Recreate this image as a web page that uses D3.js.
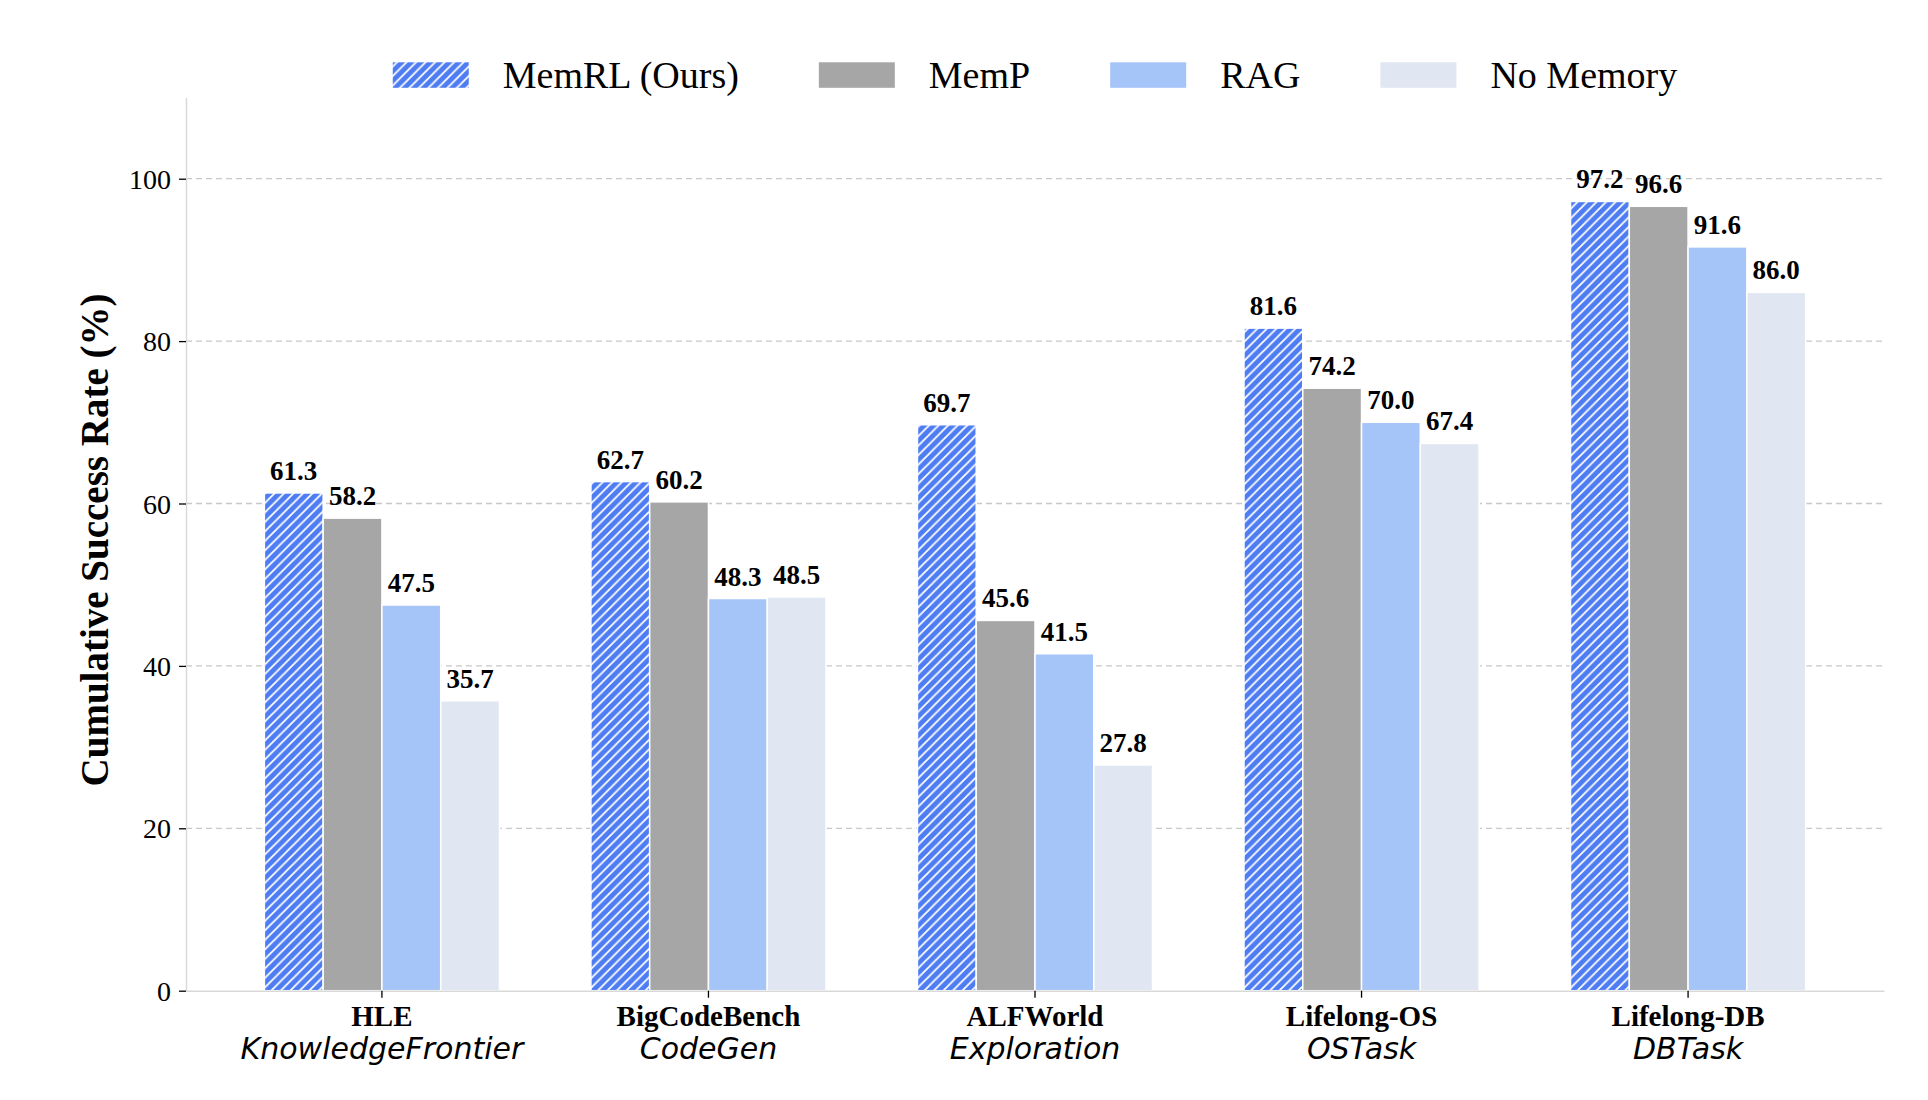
<!DOCTYPE html>
<html>
<head>
<meta charset="utf-8">
<script src="https://cdn.jsdelivr.net/npm/d3@7"></script>
<style>
  body { margin: 0; background: #fff; }
  text { fill: #000; }
</style>
</head>
<body>
<svg id="chart"></svg>
<script>
// data
const benchmarks = ["HLE", "BigCodeBench", "ALFWorld", "Lifelong-OS", "Lifelong-DB"]
const domains = ["KnowledgeFrontier", "CodeGen", "Exploration", "OSTask", "DBTask"]
const methods = ["MemRL (Ours)", "MemP", "RAG", "No Memory"]
const memrl = [61.3, 62.7, 69.7, 81.6, 97.2]
const memp = [58.2, 60.2, 45.6, 74.2, 96.6]
const rag = [47.5, 48.3, 41.5, 70.0, 91.6]
const noMemory = [35.7, 48.5, 27.8, 67.4, 86.0]
const yTicks = [0, 20, 40, 60, 80, 100]

const colors = ["#4e7cf3", "#a6a6a6", "#a5c4f7", "#e0e6f2"]
const serif = "'Liberation Serif', 'Times New Roman', Times, serif"
const sans = "'DejaVu Sans', sans-serif"

const width = 1928, height = 1100
const plotLeft = 186, plotRight = 1884, plotTop = 97.5, plotBottom = 990.7

const series = [memrl, memp, rag, noMemory]
const rows = benchmarks.map((b, i) => ({
  name: b,
  values: methods.map((m, j) => ({method: m, j: j, value: series[j][i]}))
}))

const svg = d3.select("#chart")
  .attr("width", width)
  .attr("height", height)

// hatch for MemRL
const defs = svg.append("defs")
const hatch = defs.append("pattern")
  .attr("id", "hatch")
  .attr("patternUnits", "userSpaceOnUse")
  .attr("width", 9.5)
  .attr("height", 9.5)
hatch.append("rect").attr("width", 9.5).attr("height", 9.5).attr("fill", colors[0])
hatch.append("path")
  .attr("d", "M-2,2 L2,-2 M0,9.5 L9.5,0 M7.5,11.5 L11.5,7.5")
  .attr("stroke", "#fff")
  .attr("stroke-width", 1.8)

const fillFor = j => j === 0 ? "url(#hatch)" : colors[j]

const x0 = d3.scaleBand()
  .domain(benchmarks)
  .range([plotLeft, plotRight])
  .paddingInner(0.28)
  .paddingOuter(0.24)

const x1 = d3.scaleBand()
  .domain(methods)
  .range([0, x0.bandwidth()])

const y = d3.scaleLinear()
  .domain([0, 110])
  .range([plotBottom, plotTop])

// grid
svg.append("g")
  .selectAll("line")
  .data(yTicks.slice(1))
  .enter().append("line")
  .attr("x1", plotLeft).attr("x2", plotRight)
  .attr("y1", d => y(d)).attr("y2", d => y(d))
  .attr("stroke", "#c8c8c8")
  .attr("stroke-width", 1.3)
  .attr("stroke-dasharray", "6,4")

// bars
let groups = svg.append("g")
  .selectAll("g")
  .data(rows).enter()
  .append("g")
  .attr("transform", d => `translate(${x0(d.name)},0)`)

groups.selectAll("rect")
  .data(d => d.values).enter()
  .append("rect")
  .attr("x", d => x1(d.method))
  .attr("width", x1.bandwidth())
  .attr("y", d => y(d.value))
  .attr("height", d => y(0) - y(d.value))
  .attr("fill", d => fillFor(d.j))
  .attr("stroke", "#fff")
  .attr("stroke-width", 1.5)

groups.selectAll(".val")
  .data(d => d.values).enter()
  .append("text")
  .attr("class", "val")
  .attr("x", d => x1(d.method) + x1.bandwidth() / 2)
  .attr("y", d => y(d.value) - 13)
  .attr("text-anchor", "middle")
  .style("font-family", serif)
  .style("font-weight", "bold")
  .style("font-size", "27px")
  .text(d => d.value.toFixed(1))

// axes
let yAxis = svg.append("g")
  .attr("transform", `translate(${plotLeft},0)`)
  .call(d3.axisLeft(y).tickValues(yTicks).tickSize(7).tickSizeOuter(0).tickPadding(8))
yAxis.select(".domain").attr("stroke", "#d9d9d9").attr("stroke-width", 1.5)
yAxis.selectAll(".tick line").attr("stroke", "#000").attr("stroke-width", 1.3)
yAxis.selectAll(".tick text")
  .attr("dy", null)
  .attr("y", 9.5)
  .style("font-family", serif)
  .style("font-size", "28px")

let xAxis = svg.append("g")
  .attr("transform", `translate(0,${plotBottom})`)
  .call(d3.axisBottom(x0).tickSize(7).tickSizeOuter(0).tickFormat(""))
xAxis.select(".domain").attr("stroke", "#d9d9d9").attr("stroke-width", 1.5)
xAxis.selectAll(".tick line").attr("stroke", "#000").attr("stroke-width", 1.3)
xAxis.selectAll(".tick text").remove()

let xLabels = svg.append("g")
  .selectAll("g")
  .data(benchmarks).enter()
  .append("g")
  .attr("transform", d => `translate(${x0(d) + x0.bandwidth() / 2},0)`)
xLabels.append("text")
  .attr("y", 1026)
  .attr("text-anchor", "middle")
  .style("font-family", serif)
  .style("font-weight", "bold")
  .style("font-size", "29px")
  .text(d => d)
xLabels.append("text")
  .attr("y", 1059)
  .attr("text-anchor", "middle")
  .style("font-family", sans)
  .style("font-style", "italic")
  .style("font-size", "30px")
  .text((d, i) => domains[i])

svg.append("text")
  .attr("transform", "translate(108,540) rotate(-90)")
  .attr("text-anchor", "middle")
  .style("font-family", serif)
  .style("font-weight", "bold")
  .style("font-size", "39px")
  .text("Cumulative Success Rate (%)")

// legend, laid out like matplotlib and centred over the axes
const patchW = 76, patchH = 25.5, textGap = 34, colGap = 80
let legend = svg.append("g")
let items = legend.selectAll("g")
  .data(methods).enter()
  .append("g")
items.append("rect")
  .attr("y", 62.3)
  .attr("width", patchW)
  .attr("height", patchH)
  .attr("fill", (d, j) => fillFor(j))
items.append("text")
  .attr("x", patchW + textGap)
  .attr("y", 87.7)
  .style("font-family", serif)
  .style("font-size", "38px")
  .text(d => d)

let offsets = [], pos = 0
items.each(function() {
  offsets.push(pos)
  let w = d3.select(this).select("text").node().getComputedTextLength()
  pos += patchW + textGap + w + colGap
})
let total = pos - colGap
let start = (plotLeft + plotRight) / 2 - total / 2
items.attr("transform", (d, j) => `translate(${start + offsets[j]},0)`)
</script>
</body>
</html>
